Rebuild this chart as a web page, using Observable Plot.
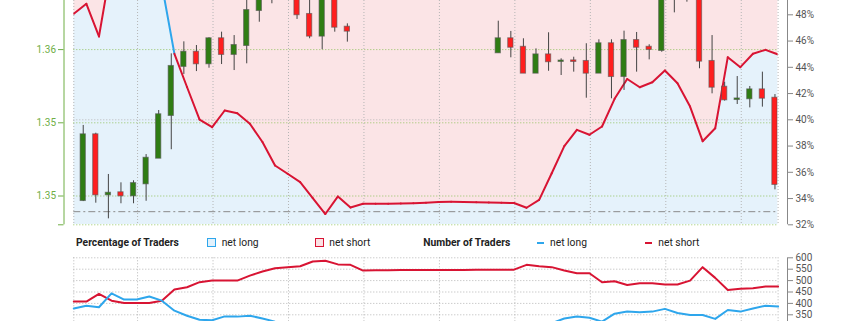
<!DOCTYPE html>
<html><head><meta charset="utf-8">
<script src="https://cdn.jsdelivr.net/npm/d3@7"></script>
<script src="https://cdn.jsdelivr.net/npm/@observablehq/plot@0.6"></script>
<style>
html,body{margin:0;padding:0;background:#fff;}
#wrap{position:relative;width:845px;height:321px;overflow:hidden;font-family:Roboto,sans-serif;}
#top{position:absolute;left:0;top:0;}
#bottom{position:absolute;left:0;top:250px;}
.lg{position:absolute;top:237px;font-size:10.3px;line-height:12px;color:#222;white-space:nowrap;}
.lg.b{font-weight:bold;}
.box{position:absolute;top:238px;width:7px;height:7px;border:1.6px solid;}
.dash{position:absolute;top:241.5px;width:7px;height:2px;}
</style></head><body>
<div id="wrap"><div id="top"></div><div id="legend"></div><div id="bottom"></div></div>
<script>
// ---------- DATA ----------
// sentiment samples (one per 4h period)
const sentPct = [48.08,48.84,46.35,51.9,50.9,50.9,51.7,50.3,45.03,42.5,40.02,39.44,40.71,40.50,39.70,38.31,36.52,35.89,35.25,34.04,32.82,34.16,33.32,33.60,33.60,33.61,33.62,33.65,33.68,33.73,33.76,33.74,33.72,33.70,33.68,33.66,33.30,33.90,35.93,38.00,39.23,38.86,39.49,41.60,43.11,42.48,42.86,43.76,42.79,41.01,38.37,39.36,44.77,44.01,45.03,45.33,44.98];
const longCount = [378,390,383,444,417,417,430,412,368,346,328,326,343,342,346,334,320,313,306,301,287,296,284,275,276,276,277,277,278,279,279,279,279,279,278,278,284,289,313,334,343,337,320,355,364,361,364,376,358,349,349,332,371,364,378,390,386];
const shortCount = [408,408,442,412,402,402,402,412,461,471,493,500,500,500,522,540,554,559,563,584,587,571,569,544,545,545,546,546,547,547,547,547,548,548,548,548,569,563,559,544,532,532,493,497,481,488,488,483,483,500,559,512,459,464,466,474,474];

// candles (4h)
const candleSlot = [0,1,2,3,4,5,6,7,8,9,10,11,12,13,14,15,16,17,18,19,20,21,33,34,35,36,37,38,39,40,41,42,43,44,45,46,47,48,49,50,51,52,53,54,55];
const candleOpen  = [1.34969,1.35418,1.35008,1.35022,1.35001,1.35083,1.35258,1.35550,1.35885,1.35982,1.35903,1.36074,1.35967,1.36028,1.36267,1.36420,1.36480,1.36470,1.36240,1.36092,1.36370,1.36153,1.35978,1.36074,1.36016,1.35839,1.35964,1.35919,1.35923,1.35919,1.35839,1.36040,1.35816,1.36062,1.36016,1.35994,1.36380,1.36450,1.36420,1.35919,1.35743,1.35659,1.35664,1.35725,1.35668];
const candleHigh  = [1.35482,1.35429,1.35147,1.35090,1.35104,1.35283,1.35584,1.35971,1.36053,1.36028,1.36081,1.36119,1.36096,1.36356,1.36438,1.36520,1.36560,1.36500,1.36349,1.36420,1.36400,1.36176,1.36194,1.36124,1.36074,1.36005,1.36115,1.35937,1.35948,1.36040,1.36067,1.36067,1.36126,1.36117,1.36033,1.36420,1.36500,1.36520,1.36450,1.36096,1.35777,1.35816,1.35748,1.35846,1.35693];
const candleLow   = [1.34962,1.34951,1.34844,1.34947,1.34947,1.34964,1.35258,1.35316,1.35830,1.35850,1.35873,1.35898,1.35857,1.35903,1.36187,1.36313,1.36380,1.36206,1.36074,1.35999,1.36119,1.36051,1.35978,1.35944,1.35839,1.35839,1.35852,1.35823,1.35846,1.35668,1.35839,1.35664,1.35721,1.35846,1.35930,1.35982,1.36251,1.36324,1.35869,1.35698,1.35648,1.35625,1.35602,1.35607,1.35042];
const candleClose = [1.35418,1.35008,1.35019,1.35001,1.35085,1.35258,1.35555,1.35885,1.35982,1.35903,1.36074,1.35967,1.36028,1.36267,1.36390,1.36480,1.36450,1.36238,1.36092,1.36380,1.36153,1.36126,1.36074,1.36016,1.35839,1.35964,1.35917,1.35922,1.35919,1.35839,1.36040,1.35816,1.36062,1.36016,1.36001,1.36380,1.36450,1.36420,1.35921,1.35743,1.35657,1.35663,1.35725,1.35668,1.35079];

// axes / ticks
const priceTicks = [1.350, 1.355, 1.360];
const priceTickLabels = ["1.35", "1.35", "1.36"];
const pctTicks = [32, 34, 36, 38, 40, 42, 44, 46, 48];
const pctGrid = [40];
const pctRefLine = [33];
const countTicks = [350, 400, 450, 500, 550, 600];
const countGrid = [300, 350, 400, 450, 500, 550, 600];
const dayGrid = [0, 5.07, 11.07, 17.07, 23.07, 29.07, 35.07, 41.07, 47.07, 53.07, 56];
const legendTitles = ["Percentage of Traders", "Number of Traders"];
const legendLabels = ["net long", "net short"];

// ---------- STYLE ----------
const RED = "#d81433", BLUE = "#2ea6ec", LBLUE = "#e5f2fb", PINK = "#fbe4e6";
const GREEN_AX = "#6fae45", GRID = "#b5b5b5", GGRID = "#93c462";
const CUP = "#2f7d13", CDN = "#ff1e1e";
const W = 845, xMax = 56, candleOffset = 0.75;

const sent = sentPct.map((p, k) => ({k, pct: p, long: longCount[k], short: shortCount[k]}));
const priceDomain = [1.348033, 1.363354];
const pctToPrice = d3.scaleLinear().domain([32, 48]).range([1.348033, 1.362377]);
const segs = d3.pairs(sent).map(([a, b]) => ({x1: a.k, y1: pctToPrice(a.pct), x2: b.k, y2: pctToPrice(b.pct), up: a.pct >= 50}));
const candles = candleSlot.map((s, i) => ({x: s + candleOffset, o: candleOpen[i], h: candleHigh[i], l: candleLow[i], c: candleClose[i], up: candleClose[i] >= candleOpen[i]}));

const dotted = {strokeDasharray: "1,2"};
const topPlot = Plot.plot({
  width: W, height: 232,
  marginLeft: 73.3, marginRight: W - 777.6, marginTop: 0, marginBottom: 232 - 224.3,
  style: {fontFamily: "Roboto, sans-serif", fontSize: "10px", background: "transparent", overflow: "visible"},
  x: {domain: [0, xMax], axis: null},
  y: {domain: priceDomain},
  marks: [
    Plot.areaY(sent, {x: "k", y1: () => priceDomain[0], y2: d => pctToPrice(d.pct), fill: LBLUE, clip: true}),
    Plot.areaY(sent, {x: "k", y1: d => pctToPrice(d.pct), y2: () => priceDomain[1], fill: PINK, clip: true}),
    Plot.ruleX(dayGrid, {stroke: GRID, ...dotted}),
    Plot.ruleY(pctGrid.map(pctToPrice), {stroke: GRID, ...dotted}),
    Plot.ruleY([...priceTicks, priceDomain[0]], {stroke: GGRID, ...dotted}),
    Plot.ruleY(pctRefLine.map(pctToPrice), {stroke: "#8a8a8a", strokeDasharray: "7,3,2,3"}),
    Plot.link(segs, {x1: "x1", y1: "y1", x2: "x2", y2: "y2", stroke: d => d.up ? BLUE : RED, strokeWidth: 2, strokeLinecap: "round", clip: true}),
    Plot.ruleX(candles, {x: "x", y1: "l", y2: "h", stroke: "#444", clip: true}),
    Plot.rect(candles, {x1: d => d.x - 0.21, x2: d => d.x + 0.21, y1: "o", y2: "c", fill: d => d.up ? CUP : CDN, stroke: "#555", strokeOpacity: 0.6, insetTop: -0.5, insetBottom: -0.5, clip: true}),
    Plot.ruleX([0], {dx: -9.8, stroke: GREEN_AX}),
    Plot.axisY({anchor: "left", ticks: priceTicks, tickFormat: d => priceTickLabels[priceTicks.indexOf(d)], color: GREEN_AX, tickSize: 5.5, tickPadding: 2.5, dx: -9.8, label: null}),
    Plot.axisY({anchor: "left", ticks: [priceDomain[0]], tickFormat: () => "", color: GREEN_AX, tickSize: 5.5, dx: -9.8, label: null}),
    Plot.ruleX([xMax], {dx: 9.4, stroke: "#888"}),
    Plot.axisY({anchor: "right", ticks: pctTicks.map(pctToPrice), tickFormat: d => Math.round(pctToPrice.invert(d)) + "%", stroke: "#888", fill: "#555", tickSize: 5, tickPadding: 3, dx: 9.4, label: null})
  ]
});
document.getElementById("top").append(topPlot);

const bottomPlot = Plot.plot({
  width: W, height: 120,
  marginLeft: 73.3, marginRight: W - 777.6, marginTop: 7.3, marginBottom: 120 - 75.7,
  style: {fontFamily: "Roboto, sans-serif", fontSize: "10px", background: "transparent", overflow: "visible"},
  x: {domain: [0, xMax], axis: null},
  y: {domain: [300, 600]},
  marks: [
    Plot.ruleX(dayGrid, {stroke: GRID, ...dotted}),
    Plot.ruleY(countGrid, {stroke: GRID, ...dotted}),
    Plot.line(sent, {x: "k", y: "short", stroke: RED, strokeWidth: 2}),
    Plot.line(sent, {x: "k", y: "long", stroke: BLUE, strokeWidth: 2}),
    Plot.ruleX([xMax], {dx: 9.4, stroke: "#888"}),
    Plot.axisY({anchor: "right", ticks: countTicks, stroke: "#888", fill: "#555", tickSize: 5, tickPadding: 3, dx: 9.4, label: null})
  ]
});
document.getElementById("bottom").append(bottomPlot);

// ---------- LEGEND ----------
const lg = document.getElementById("legend");
function el(cls, left, text, styles) {
  const e = document.createElement("div");
  e.className = cls; e.style.left = left + "px";
  if (text) e.textContent = text;
  Object.assign(e.style, styles || {});
  lg.append(e);
}
el("lg b", 76, legendTitles[0]);
el("box", 207.3, null, {borderColor: BLUE, background: "#e1f1fc"});
el("lg", 221.7, legendLabels[0]);
el("box", 315, null, {borderColor: RED, background: "#fbe1e4"});
el("lg", 329.3, legendLabels[1]);
el("lg b", 423.3, legendTitles[1]);
el("dash", 537.3, null, {background: BLUE});
el("lg", 550, legendLabels[0]);
el("dash", 644.5, null, {background: RED});
el("lg", 658.3, legendLabels[1]);
</script></body></html>
